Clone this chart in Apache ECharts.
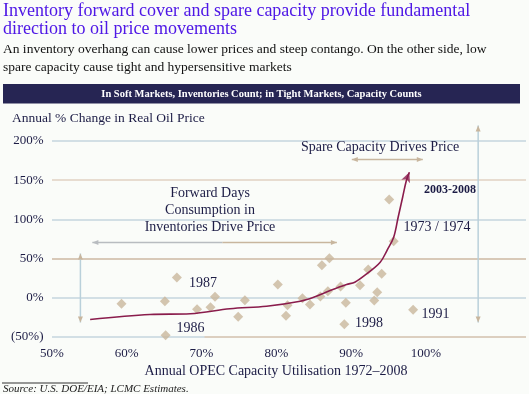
<!DOCTYPE html>
<html>
<head>
<meta charset="utf-8">
<script src="https://cdn.jsdelivr.net/npm/echarts@6/dist/echarts.min.js"></script>
<style>
html,body{margin:0;padding:0;background:#fafcf9;}
#chart{width:529px;height:394px;}
</style>
</head>
<body>
<div id="chart"></div>
<script>
// ---- data ----
const xTicks = [50, 60, 70, 80, 90, 100];
const yTicks = [-50, 0, 50, 100, 150, 200];
const utilisation = [59.3, 65.1, 66.7, 65.2, 69.4, 71.2, 71.8, 74.9, 75.8, 80.2, 81.5, 81.3, 83.5, 84.5, 85.9, 86.9, 86.1, 87.1, 88.6, 89.3, 89.1, 91.2, 92.3, 93.1, 93.5, 94.1, 95.1, 95.7, 98.3];
const priceChange = [-7.7, -4.3, 25.9, -47.7, -14.5, -12, 1.3, -24.2, -3.1, 17, -9.4, -23, -0.5, -8.5, 1.7, 8.4, 41.6, 50.5, 14.4, -6.4, -33.7, 16.1, 36.1, -3.4, 7.1, 30.6, 125.4, 72.2, -15.3];
const curveX = [55.1, 63.1, 68.5, 73.8, 78.7, 83.2, 85.0, 87.2, 89.4, 90.5, 92.1, 93.9, 94.8, 95.7, 96.3, 96.9, 97.4, 97.8];
const curveY = [-27.7, -21.3, -20.4, -14.0, -10.7, -4.3, 0.8, 9.3, 17.0, 19.9, 30.6, 45.4, 60.3, 77.3, 102.8, 128.3, 149.6, 160.2];

const FONT = '"Liberation Serif", "Times New Roman", serif';
const TXT = '#1c1c45';
const chart = echarts.init(document.getElementById('chart'), null, {renderer: 'canvas'});

const pts = utilisation.map((x, i) => [x, priceChange[i]]);
const curve = curveX.map((x, i) => [x, curveY[i]]);
const last = curve[curve.length - 1];

chart.setOption({
  backgroundColor: '#fafcf9',
  animation: false,
  grid: {left: 52, right: 3, top: 141, bottom: 57, containLabel: false},
  xAxis: {
    type: 'value', min: xTicks[0], max: 113.4, interval: 10,
    axisLine: {show: false}, axisTick: {show: false}, splitLine: {show: false},
    axisLabel: {
      margin: 10, fontFamily: FONT, fontSize: 13, color: TXT,
      formatter: v => (xTicks.indexOf(v) >= 0 ? v + '%' : '')
    }
  },
  yAxis: {
    type: 'value', min: yTicks[0], max: yTicks[yTicks.length - 1], interval: 50,
    axisLine: {show: false}, axisTick: {show: false},
    splitLine: {show: true, lineStyle: {width: 1.5, color: ['#c4d6de', '#c4d6de', '#cdb9a2', '#c4d6de', '#e0d2c2', '#c4d6de']}},
    axisLabel: {
      margin: 8.5, fontFamily: FONT, fontSize: 13, color: TXT,
      formatter: v => (v < 0 ? '(' + (-v) + '%)' : v + '%')
    }
  },
  series: [
    {
      type: 'line', data: curve, smooth: 0.35, showSymbol: false, z: 3,
      lineStyle: {color: '#8a1c4c', width: 1.6}
    },
    {
      type: 'scatter', data: [last], symbol: 'arrow', symbolSize: [7, 10],
      symbolRotate: -22, z: 4,
      itemStyle: {color: '#8a1c4c'}
    },
    {
      type: 'scatter', data: pts, symbol: 'diamond', symbolSize: [10, 10], z: 2,
      itemStyle: {color: '#c9b79c'}
    }
  ]
});

// ---- annotations (arrows via the chart's own scale) ----
const P = (x, y) => chart.convertToPixel({gridIndex: 0}, [x, y]);
const g = [];
function seg(a, b, color, w) {
  g.push({type: 'line', shape: {x1: a[0], y1: a[1], x2: b[0], y2: b[1]}, style: {stroke: color, lineWidth: w}, z: 1});
}
function head(p, dir, color) {
  const s = 4, l = 6;
  let pts;
  if (dir === 'up') pts = [[p[0], p[1]], [p[0] - s / 1.6, p[1] + l], [p[0] + s / 1.6, p[1] + l]];
  if (dir === 'down') pts = [[p[0], p[1]], [p[0] - s / 1.6, p[1] - l], [p[0] + s / 1.6, p[1] - l]];
  if (dir === 'left') pts = [[p[0], p[1]], [p[0] + l, p[1] - s / 1.6], [p[0] + l, p[1] + s / 1.6]];
  if (dir === 'right') pts = [[p[0], p[1]], [p[0] - l, p[1] - s / 1.6], [p[0] - l, p[1] + s / 1.6]];
  g.push({type: 'polygon', shape: {points: pts}, style: {fill: color}, z: 1});
}
const blue = '#b9d0da', tan = '#c8b69e', grey = '#b8bcc0';
seg(P(70.4, -50), P(113.4, -50), '#dccfc0', 2.2);
let a = P(53.8, 56.5), b = P(53.8, -31.5);
seg(a, b, blue, 1.5); head(a, 'up', tan); head(b, 'down', tan);
a = P(107, 219.8); b = P(107, -31.5);
seg(a, b, blue, 1.5); head(a, 'up', tan); head(b, 'down', tan);
a = P(55.4, 70.5); b = P(88.1, 70.5);
const m = P(72.8, 70.5);
seg(a, m, grey, 1.5); seg(m, b, tan, 1.5); head(a, 'left', grey); head(b, 'right', tan);
a = P(90.1, 176.4); b = P(99.6, 176.4);
seg(a, b, tan, 1.5); head(a, 'left', tan); head(b, 'right', tan);

function txt(x, y, text, opt) {
  g.push({type: 'text', x: x, y: y, z: 10, style: Object.assign({
    text: text, fontFamily: FONT, fontSize: 14, fill: TXT, textAlign: 'left', textVerticalAlign: 'middle'
  }, opt || {})});
}
txt(3, 11, 'Inventory forward cover and spare capacity provide fundamental', {fontSize: 18, fill: '#4f18e6'});
txt(3, 29, 'direction to oil price movements', {fontSize: 18, fill: '#4f18e6'});
txt(3, 49, 'An inventory overhang can cause lower prices and steep contango. On the other side, low', {fontSize: 13.5, fill: '#111'});
txt(3, 67, 'spare capacity cause tight and hypersensitive markets', {fontSize: 13.5, fill: '#111'});
g.push({type: 'rect', shape: {x: 3, y: 84, width: 517, height: 19.5}, style: {fill: '#262553'}, z: 5});
txt(261.5, 93.8, 'In Soft Markets, Inventories Count; in Tight Markets, Capacity Counts', {fontSize: 10.5, fontWeight: 'bold', fill: '#ffffff', textAlign: 'center'});
txt(12, 118, 'Annual % Change in Real Oil Price', {fontSize: 13.5});
txt(380, 147, 'Spare Capacity Drives Price', {textAlign: 'center'});
txt(450, 190, '2003-2008', {textAlign: 'center', fontSize: 12, fontWeight: 'bold'});
txt(437, 227, '1973 / 1974', {textAlign: 'center'});
txt(435.5, 314, '1991', {textAlign: 'center'});
txt(369, 323, '1998', {textAlign: 'center'});
txt(203, 283, '1987', {textAlign: 'center'});
txt(190.5, 328, '1986', {textAlign: 'center'});
txt(210, 193, 'Forward Days', {textAlign: 'center'});
txt(210, 210, 'Consumption in', {textAlign: 'center'});
txt(210, 227, 'Inventories Drive Price', {textAlign: 'center'});
txt(276, 371, 'Annual OPEC Capacity Utilisation 1972\u20132008', {textAlign: 'center'});
g.push({type: 'line', shape: {x1: 2, y1: 383, x2: 88, y2: 383}, style: {stroke: '#333', lineWidth: 1}});
txt(3, 389.5, 'Source: U.S. DOE/EIA; LCMC Estimates.', {fontSize: 11, fontStyle: 'italic', fill: '#222'});

chart.setOption({graphic: {elements: g}});
</script>
</body>
</html>
